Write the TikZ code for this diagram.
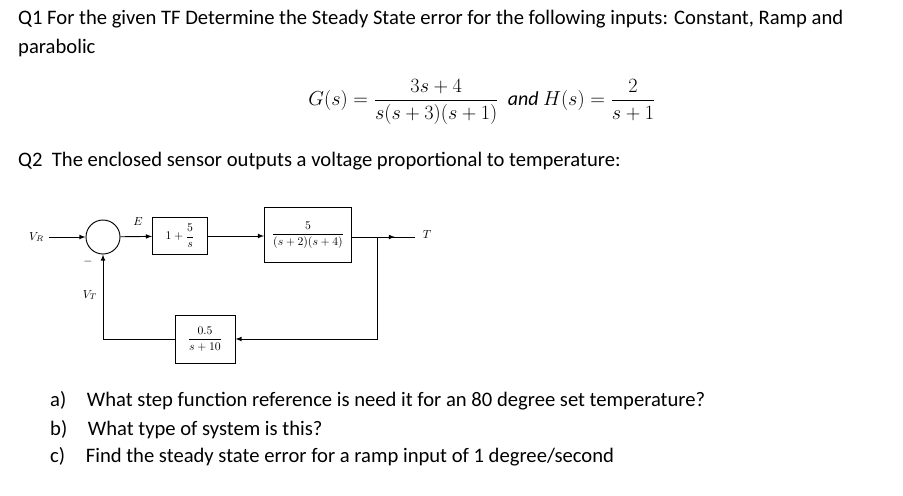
\documentclass[tikz,border=0pt]{standalone}
\usepackage{amsmath}
\usepackage{fontspec}
\setmainfont{Carlito}
\newfontfamily\helv{Liberation Sans}
\usetikzlibrary{positioning}

\begin{document}
\begin{tikzpicture}[x=0.03cm,y=-0.03cm,>=latex]
    \tikzset{every node/.style={inner sep=0pt},
      txt/.style={anchor=west,font=\fontsize{17.6}{20}\selectfont},
      blk/.style={draw,thick,font=\helv\fontsize{10}{12}\selectfont,inner sep=2pt},
      lbl/.style={font=\helv\itshape\fontsize{10}{12}\selectfont}}
    \useasboundingbox (0,0) rectangle (903,495);
    % question text
    \node [txt] (q1) at (18,19) {Q1 For the given TF Determine the Steady State error for the following inputs: Constant, Ramp and};
    \node [txt] (q1b) at (18,48) {parabolic};
    \node (tf) at (482,102) {\fontsize{17}{20}\selectfont $G(s) = \dfrac{3s+4}{s(s+3)(s+1)}\ \ \mathit{and}\ H(s) = \dfrac{2}{s+1}$};
    \node [txt] (q2) at (18,161) {Q2\ \ The enclosed sensor outputs a voltage proportional to temperature:};
    \node [txt] (qa) at (50,401) {a)\quad What step function reference is need it for an 80 degree set temperature?};
    \node [txt] (qb) at (50,430) {b)\quad What type of system is this?};
    \node [txt] (qc) at (50,457) {c)\quad Find the steady state error for a ramp input of 1 degree/second};
    % block diagram
    \node [draw,thick,circle,minimum size=34*0.03cm] (sum) at (103,237) {};
    \node [lbl,anchor=east] (vr) at (44,237) {$V_R$};
    \node [blk,minimum width=55*0.03cm,minimum height=37*0.03cm] (ctrl) at (180,236) {$1+\dfrac{5}{s}$};
    \node [blk,minimum width=87*0.03cm,minimum height=55*0.03cm] (plant) at (308,235) {$\dfrac{5}{(s+2)(s+4)}$};
    \node [blk,minimum width=60*0.03cm,minimum height=48*0.03cm] (sens) at (205,339) {$\dfrac{0.5}{s+10}$};
    \coordinate (out) at (415,237);
    \coordinate (br) at (377,237);
    \node [lbl] (t) at (427,234) {$T$};
    \node [lbl] (e) at (138,221) {$E$};
    \node [lbl] (m) at (88,262) {$-$};
    \node [lbl] (vt) at (90,295) {$V_T$};
    \draw [thick,->] (vr.east) ++(5,0) -- (sum);
    \draw [thick,->] (sum) -- (ctrl);
    \draw [thick,->] (ctrl) -- (ctrl -| plant.west);
    \draw [thick] (plant.east |- br) -- (out);
    \draw [thick,->] (plant.east |- br) -- (395,237);
    \draw [thick,->] (br) |- (sens);
    \draw [thick,->] (sens) -| (sum);
\end{tikzpicture}
\end{document}
